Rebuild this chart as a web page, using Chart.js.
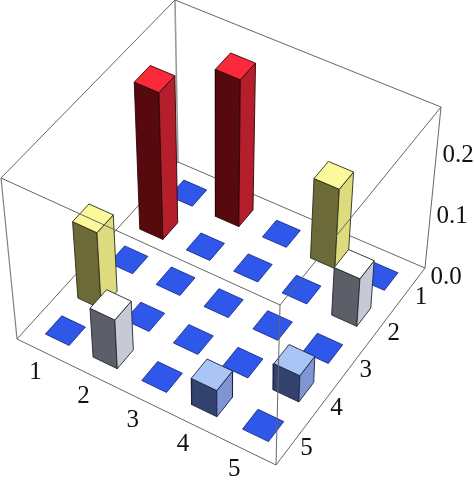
<!DOCTYPE html>
<html><head><meta charset="utf-8">
<style>html,body{margin:0;padding:0;background:#fff}canvas{display:block}</style>
<script src="https://cdn.jsdelivr.net/npm/chart.js@4"></script></head>
<body><canvas id="c" width="474" height="484"></canvas>
<script>
// Data: one array per index along the first (left-front) axis
const row1 = [0, 0.24, 0, 0.125, 0];
const row2 = [0.24, 0, 0, 0, 0.08];
const row3 = [0, 0, 0, 0, 0];
const row4 = [0.13, 0, 0, 0, 0.043];
const row5 = [0, 0.078, 0, 0.043, 0];
const rows = [row1, row2, row3, row4, row5];
const leftLabels = ['1', '2', '3', '4', '5'];
const rightLabels = ['1', '2', '3', '4', '5'];
const zTicks = [0, 0.1, 0.2];
const zMax = 0.264;

// Camera calibration: projected positions of the plot box corners
const floorQuad = [[178,162],[425,268],[276,465],[17,339]];
const roofQuad  = [[175,0],[441,107],[280,305],[1,178]];
function squareToQuad(q){
  const [[x0,y0],[x1,y1],[x2,y2],[x3,y3]] = q;
  const dx1=x1-x2,dx2=x3-x2,dy1=y1-y2,dy2=y3-y2,sx=x0-x1+x2-x3,sy=y0-y1+y2-y3;
  const d=dx1*dy2-dx2*dy1;
  const g=(sx*dy2-dx2*sy)/d,h=(dx1*sy-sx*dy1)/d;
  return (u,v)=>{
    const w=g*u+h*v+1;
    return [((x1-x0+g*x1)*u+(x3-x0+h*x3)*v+x0)/w,((y1-y0+g*y1)*u+(y3-y0+h*y3)*v+y0)/w];
  };
}
const floorH=squareToQuad(floorQuad), roofH=squareToQuad(roofQuad);
function project(u,v,val){
  const t=val/zMax,a=floorH(u,v),b=roofH(u,v);
  return {x:a[0]+(b[0]-a[0])*t,y:a[1]+(b[1]-a[1])*t};
}
function faceSet(points,fill,stroke,lw){
  return {data:[...points,points[0]],showLine:true,fill:fill?'shape':false,
    backgroundColor:fill||'rgba(0,0,0,0)',borderColor:stroke,borderWidth:lw,
    pointRadius:0,pointHoverRadius:0,tension:0};
}
function edgeSet(p,q,color,lw){
  return {data:[p,q],showLine:true,fill:false,borderColor:color,borderWidth:lw,
    pointRadius:0,pointHoverRadius:0,tension:0};
}
function palette(v){
  if(v>=0.2) return {top:'#fb2a3a',left:'#560a0e',right:'#b41f2b',line:'#2a0508'};
  if(v>=0.1) return {top:'#fbf99c',left:'#6b6a38',right:'#dcdb7e',line:'#2c2b14'};
  if(v>=0.06) return {top:'#ffffff',left:'#5c5e68',right:'#c6cad6',line:'#25262c'};
  if(v>0) return {top:'#aac4f5',left:'#33426e',right:'#7f95d4',line:'#1a2240'};
  return {top:'#2f57ea',line:'#1a2f88'};
}
const N=rows.length, half=0.048, inset=0.96;
const pos=k=>0.5+((k+0.5)/N-0.5)*inset;
const ds=[];
const edge='#666666';
const C=(u,v,z)=>project(u,v,z);
// back edges of the box
ds.push(edgeSet(C(0,0,0),C(0,0,zMax),'#9a9a9a',1.6));
ds.push(edgeSet(C(0,0,0),C(1,0,0),edge,1));
ds.push(edgeSet(C(0,0,0),C(0,1,0),edge,1));
ds.push(edgeSet(C(0,0,zMax),C(1,0,zMax),edge,1));
ds.push(edgeSet(C(0,0,zMax),C(0,1,zMax),edge,1));
ds.push(edgeSet(C(0,1,0),C(1,1,0),edge,1));
ds.push(edgeSet(C(1,0,0),C(1,1,0),edge,1));
ds.push(edgeSet(C(0,1,0),C(0,1,zMax),'#808080',1.2));
ds.push(edgeSet(C(1,0,0),C(1,0,zMax),edge,1));
// bars, back to front
const cells=[];
rows.forEach((r,i)=>r.forEach((val,j)=>cells.push({i,j,val})));
cells.sort((a,b)=>(a.i+a.j)-(b.i+b.j));
cells.forEach(({i,j,val})=>{
  const cu=pos(i),cv=pos(j),u0=cu-half,u1=cu+half,v0=cv-half,v1=cv+half;
  const p=palette(val);
  if(val>0){
    ds.push(faceSet([C(u0,v1,0),C(u1,v1,0),C(u1,v1,val),C(u0,v1,val)],p.left,p.line,0.9));
    ds.push(faceSet([C(u1,v0,0),C(u1,v1,0),C(u1,v1,val),C(u1,v0,val)],p.right,p.line,0.9));
  }
  ds.push(faceSet([C(u0,v0,val),C(u1,v0,val),C(u1,v1,val),C(u0,v1,val)],p.top,p.line,0.9));
});
// front edges of the box drawn over the bars
ds.push(edgeSet(C(1,1,0),C(1,1,zMax),edge,1));
ds.push(edgeSet(C(0,1,zMax),C(1,1,zMax),edge,1));
ds.push(edgeSet(C(1,0,zMax),C(1,1,zMax),edge,1));

const labelPlugin={id:'boxLabels',afterDatasetsDraw(chart){
  const g=chart.ctx,sx=chart.scales.x,sy=chart.scales.y;
  g.save();g.fillStyle='#111';g.font='25px "Liberation Serif"';g.textAlign='center';g.textBaseline='middle';
  const put=(t,p,dx,dy)=>g.fillText(t,sx.getPixelForValue(p.x)+dx,sy.getPixelForValue(p.y)+dy);
  leftLabels.forEach((t,i)=>put(t,project(pos(i),1,0),-10,20));
  rightLabels.forEach((t,i)=>put(t,project(1,pos(i),0),12,8));
  zTicks.forEach(z=>put(z.toFixed(1),project(1,0,z),21,9));
  g.restore();
}};
new Chart(document.getElementById('c'),{
  type:'scatter',
  data:{datasets:ds.slice().reverse()},
  options:{responsive:false,animation:false,events:[],
    layout:{padding:0},
    plugins:{legend:{display:false},tooltip:{enabled:false},title:{display:false}},
    scales:{x:{type:'linear',display:false,min:0,max:474},
            y:{type:'linear',display:false,min:0,max:484,reverse:true}}},
  plugins:[labelPlugin]
});
</script></body></html>
